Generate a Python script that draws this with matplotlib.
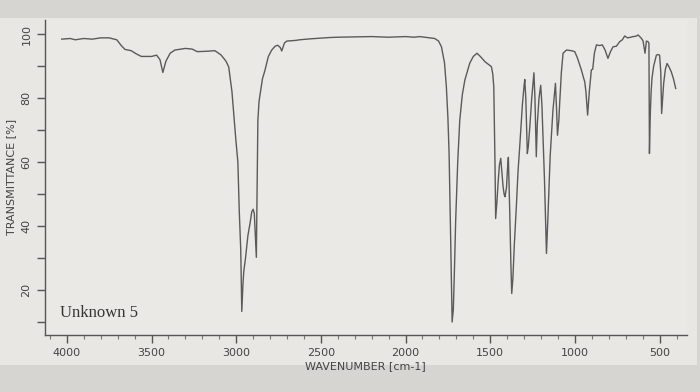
import matplotlib.pyplot as plt
from matplotlib.patches import Rectangle
from matplotlib.ticker import MultipleLocator

# IR spectrum (wavenumber cm-1, transmittance %)
wavenumber = [
    4030, 3980, 3950, 3900, 3850, 3800, 3750, 3705, 3680, 3657, 3620, 3590,
    3560, 3500, 3470, 3450, 3433, 3415, 3390, 3362, 3300, 3260, 3230, 3180,
    3126, 3090, 3060, 3044, 3025, 3010, 3002, 2990, 2982, 2973, 2967, 2960,
    2955, 2945, 2931, 2918, 2908, 2900, 2893, 2881, 2872, 2865, 2855, 2845,
    2831, 2810, 2790, 2770, 2755, 2740, 2731, 2715, 2701, 2650, 2625, 2560,
    2506, 2450, 2400, 2300, 2200, 2100, 2000, 1950, 1916, 1870, 1828, 1805,
    1788, 1770, 1759, 1750, 1743, 1735, 1728, 1725, 1718, 1712, 1704, 1692,
    1680, 1665, 1650, 1621, 1600, 1578, 1555, 1532, 1510, 1493, 1485, 1479,
    1472, 1468, 1460, 1454, 1446, 1438, 1430, 1424, 1418, 1413, 1404, 1398,
    1393, 1385, 1378, 1373, 1366, 1358, 1346, 1336, 1326, 1310, 1300, 1296,
    1290, 1285, 1281, 1275, 1265, 1255, 1242, 1236, 1228, 1222, 1212, 1202,
    1195, 1188, 1180, 1168, 1160, 1146, 1130, 1115, 1108, 1103, 1095, 1090,
    1080, 1070, 1050, 1020, 1001, 985, 962, 950, 942, 935, 925, 915,
    903, 895, 885, 873, 855, 838, 822, 805, 790, 775, 755, 736,
    720, 706, 690, 670, 657, 640, 627, 610, 598, 586, 578, 568,
    563, 560, 555, 550, 545, 535, 519, 510, 500, 493, 488, 482,
    476, 466, 456, 445, 431, 418, 405,
]
transmittance = [
    98.4, 98.6, 98.2, 98.6, 98.4, 98.8, 98.8, 98.2, 96.5, 95.2, 94.8, 93.8,
    93.0, 93.0, 93.4, 92.0, 88.0, 91.5, 94.0, 95.0, 95.5, 95.3, 94.5, 94.6,
    94.8, 93.5, 91.5, 89.7, 82.0, 72.0, 67.0, 60.0, 45.0, 32.5, 13.4, 22.0,
    26.0, 30.0, 37.0, 41.0, 44.5, 45.3, 44.0, 30.3, 73.0, 79.0, 82.5, 86.0,
    88.5, 93.0, 95.0, 96.2, 96.5, 95.8, 94.7, 97.2, 97.8, 98.0, 98.2, 98.5,
    98.7, 98.9, 99.0, 99.1, 99.2, 99.0, 99.2, 99.0, 99.2, 98.9, 98.6, 97.8,
    96.0, 91.0, 83.5, 74.0, 62.8, 40.0, 18.0, 10.1, 14.0, 25.0, 41.9, 60.0,
    73.0, 81.0, 85.6, 90.9, 93.0, 94.0, 92.8, 91.4, 90.5, 89.8, 87.5, 83.5,
    60.0, 42.4, 48.0, 53.3, 59.0, 61.2, 56.0, 52.3, 50.0, 49.2, 52.0, 58.0,
    61.5, 45.0, 28.0, 19.0, 24.0, 34.0, 46.0, 57.0, 64.8, 78.0, 84.0, 85.8,
    80.0, 70.0, 62.7, 65.0, 72.0, 80.0, 87.9, 80.0, 61.7, 72.0, 80.0, 84.0,
    78.0, 67.4, 55.0, 31.5, 42.0, 62.0, 76.0, 84.6, 76.0, 68.4, 73.0, 78.4,
    88.0, 94.0, 95.0, 94.8, 94.5, 92.5, 88.8, 86.5, 85.1, 82.0, 74.7, 82.0,
    88.8, 89.0, 94.0, 96.6, 96.4, 96.6, 95.0, 92.4, 94.5, 96.0, 96.2, 97.6,
    98.2, 99.4, 98.8, 99.0, 99.2, 99.3, 99.7, 98.8, 97.9, 94.0, 97.8, 97.6,
    97.1, 62.7, 75.0, 82.0, 86.2, 90.0, 93.4, 93.6, 93.4, 88.0, 75.2, 80.0,
    84.6, 89.0, 90.8, 89.8, 88.2, 86.0, 83.0,
]
x_ticks = [4000, 3500, 3000, 2500, 2000, 1500, 1000, 500]
y_ticks = [20, 40, 60, 80, 100]
sample_name = "Unknown 5"

fig = plt.figure(figsize=(7, 3.92), dpi=100, facecolor="#d6d5d2")
# lighter paper area behind the plot
fig.patches.append(Rectangle((0.0, 0.07), 0.995, 0.885, transform=fig.transFigure,
                             facecolor="#e8e7e3", edgecolor="none", zorder=-10))

ax = fig.add_axes([0.064, 0.145, 0.917, 0.805])
ax.set_facecolor("#eae9e5")
ax.plot(wavenumber, transmittance, color="#5a5a5a", linewidth=1.0)

ax.set_xlim(4130, 340)
ax.set_ylim(6, 104.5)

for s in ["top", "right"]:
    ax.spines[s].set_visible(False)
for s in ["left", "bottom"]:
    ax.spines[s].set_color("#555555")
    ax.spines[s].set_linewidth(1.0)

ax.set_xticks(x_ticks)
ax.xaxis.set_minor_locator(MultipleLocator(100))
ax.set_yticks(y_ticks)
ax.yaxis.set_minor_locator(MultipleLocator(10))
ax.tick_params(axis="both", which="major", length=6, width=1, color="#555555",
               labelsize=8, labelcolor="#444444")
ax.tick_params(axis="x", which="minor", length=3, width=0.8, color="#777777")
ax.tick_params(axis="y", which="minor", length=6, width=1, color="#555555")
for lbl in ax.get_yticklabels():
    lbl.set_rotation(90)
    lbl.set_va("center")

ax.set_xlabel("WAVENUMBER [cm-1]", fontsize=8, color="#444444", labelpad=2)
ax.set_ylabel("TRANSMITTANCE [%]", fontsize=8, color="#444444", labelpad=4)

ax.text(4040, 13, sample_name, family="Liberation Serif", fontsize=12,
        color="#333333", va="center")

fig.savefig("out.png", dpi=100, facecolor=fig.get_facecolor())
